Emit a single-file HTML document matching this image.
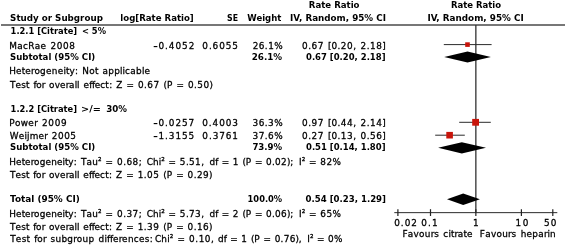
<!DOCTYPE html>
<html lang="en"><head><meta charset="utf-8"><title>Forest plot</title>
<style>html,body{margin:0;padding:0;background:#fff}svg{display:block}text{font-family:"DejaVu Sans", "Liberation Sans", sans-serif;font-size:8.9px;fill:#000}.b{font-weight:bold;fill:#000}.r{stroke:#000;stroke-width:0.28px}.h{font-size:14px;stroke:none}</style></head><body>
<svg width="567" height="246" viewBox="0 0 567 246">
<rect width="567" height="246" fill="#fff"/>
<g stroke="#555" stroke-width="1" fill="none">
<line x1="1" y1="25" x2="565" y2="25" stroke="#4a4a4a" stroke-width="1.4"/>
<line x1="475.85" y1="25" x2="475.85" y2="212.5" stroke="#333" stroke-width="1.3"/>
<line x1="394.3" y1="212.65" x2="557.3" y2="212.65" stroke="#2a2a2a"/>
<line x1="397.9" y1="209.2" x2="397.9" y2="216" stroke="#222" stroke-width="1.2"/>
<line x1="430.5" y1="209.2" x2="430.5" y2="216" stroke="#222" stroke-width="1.2"/>
<line x1="475.85" y1="209.2" x2="475.85" y2="216" stroke="#222" stroke-width="1.2"/>
<line x1="521.4" y1="209.2" x2="521.4" y2="216" stroke="#222" stroke-width="1.2"/>
<line x1="552.8" y1="209.2" x2="552.8" y2="216" stroke="#222" stroke-width="1.2"/>
</g>
<g stroke="#2b2b2b" stroke-width="1" fill="none">
<line x1="443.8" y1="44.6" x2="491.6" y2="44.6"/>
<line x1="459.2" y1="122.3" x2="490.8" y2="122.3"/>
<line x1="435.2" y1="135.2" x2="464.8" y2="135.2"/>
</g>
<g fill="#c8140a">
<rect x="465.2" y="42.3" width="4.6" height="4.6"/>
<rect x="472.2" y="118.9" width="6.8" height="6.8"/>
<rect x="446.3" y="131.9" width="6.6" height="6.6"/>
</g>
<polygon points="444.2,57 467.5,51.4 490.9,57 467.5,62.6" fill="#000"/>
<polygon points="438.1,147.8 461.8,142.2 486,147.8 461.8,153.4" fill="#000"/>
<polygon points="447,199.2 463.2,193.5 479.9,199.2 463.2,204.9" fill="#000"/>
<text x="10.1" y="20.9" textLength="92.8" lengthAdjust="spacingAndGlyphs" class="b">Study or Subgroup</text>
<text x="120.3" y="20.9" textLength="73.5" lengthAdjust="spacingAndGlyphs" class="b">log[Rate Ratio]</text>
<text x="227" y="20.9" textLength="11" lengthAdjust="spacingAndGlyphs" class="b">SE</text>
<text x="247.3" y="20.9" textLength="34.1" lengthAdjust="spacingAndGlyphs" class="b">Weight</text>
<text x="308.8" y="8.45" textLength="50.7" lengthAdjust="spacingAndGlyphs" class="b">Rate Ratio</text>
<text x="290.1" y="20.9" textLength="95.8" lengthAdjust="spacingAndGlyphs" class="b">IV, Random, 95% CI</text>
<text x="450.9" y="8.45" textLength="50.2" lengthAdjust="spacingAndGlyphs" class="b">Rate Ratio</text>
<text x="427.4" y="20.9" textLength="96.3" lengthAdjust="spacingAndGlyphs" class="b">IV, Random, 95% CI</text>
<text x="10.6" y="34.35" textLength="66.5" lengthAdjust="spacingAndGlyphs" class="b">1.2.1 [Citrate]</text>
<text x="82" y="34.35" textLength="24" lengthAdjust="spacingAndGlyphs" class="b">&lt; 5%</text>
<text class="r" y="48.75" x="9.13 17.14 22.94 28.17 34.69 40.49 46.30 50.50 56.78 63.06 69.35">MacRae 2008</text>
<text class="r" y="48.75" x="153.01 158.44 165.06 168.85 175.48 182.10 188.73" dy="1.84 -1.84 0 0 0 0 0"><tspan class="h">-</tspan>0.4052</text>
<text class="r" y="48.75" x="202.31 208.88 212.61 219.18 225.75 232.32">0.6055</text>
<text class="r" y="48.75" x="252.65 258.75 264.86 268.13 274.23">26.1%</text>
<text class="r" y="48.75" x="302.11 308.26 311.58 317.72 323.87 327.94 331.40 337.54 340.86 347.01 353.15 356.47 360.53 366.68 370.00 376.14 382.29">0.67 [0.20, 2.18]</text>
<text x="10" y="59.65" textLength="85.3" lengthAdjust="spacingAndGlyphs" class="b">Subtotal (95% CI)</text>
<text x="251.7" y="59.65" textLength="30.5" lengthAdjust="spacingAndGlyphs" class="b">26.1%</text>
<text x="306" y="59.65" textLength="79.5" lengthAdjust="spacingAndGlyphs" class="b">0.67 [0.20, 2.18]</text>
<text class="r" y="74.4" x="9.13 16.09 21.83 25.26 31.01 34.41 40.12 46.04 51.78 57.69 63.43 65.95 69.39 74.92 78.17 82.29 89.22 94.93 98.36 102.49 108.21 114.13 120.04 122.56 125.08 130.24 135.96 141.88 144.40">Heterogeneity: Not applicable</text>
<text class="r" y="87.55" x="10.03 15.62 21.25 26.05 29.38 33.39 36.17 41.77 45.07 49.08 54.69 60.11 65.75 69.04 74.65 77.07 79.48 83.49 89.13 91.90 94.67 100.30 105.36 109.13 112.27 116.29 122.54 126.56 133.95 137.97 144.07 147.34 153.44 159.54 163.56 166.97 172.49 176.51 183.91 187.92 194.02 197.29 203.39 209.49">Test for overall effect: Z = 0.67 (P = 0.50)</text>
<text x="10.6" y="111.95" textLength="66.4" lengthAdjust="spacingAndGlyphs" class="b">1.2.2 [Citrate]</text>
<text x="81.1" y="111.95" textLength="19.8" lengthAdjust="spacingAndGlyphs" class="b">&gt;/=</text>
<text x="106.2" y="111.95" textLength="20.8" lengthAdjust="spacingAndGlyphs" class="b">30%</text>
<text class="r" y="126.4" x="9.13 14.88 20.70 28.37 34.22 37.75 41.99 48.31 54.64 60.96">Power 2009</text>
<text class="r" y="126.4" x="153.01 158.42 165.02 168.79 175.39 182.00 188.60" dy="1.84 -1.84 0 0 0 0 0"><tspan class="h">-</tspan>0.0257</text>
<text class="r" y="126.4" x="202.31 208.87 212.59 219.14 225.70 232.25">0.4003</text>
<text class="r" y="126.4" x="252.62 258.73 264.84 268.12 274.23">36.3%</text>
<text class="r" y="126.4" x="302.11 308.26 311.58 317.72 323.87 327.94 331.40 337.54 340.86 347.01 353.15 356.47 360.53 366.68 370.00 376.14 382.29">0.97 [0.44, 2.14]</text>
<text class="r" y="139.2" x="9.70 18.74 24.46 26.95 29.67 38.57 44.29 47.67 51.77 57.95 64.13 70.32">Weijmer 2005</text>
<text class="r" y="139.2" x="153.01 158.42 165.03 168.80 175.40 182.01 188.62" dy="1.84 -1.84 0 0 0 0 0"><tspan class="h">-</tspan>1.3155</text>
<text class="r" y="139.2" x="202.31 208.89 212.63 219.21 225.78 232.36">0.3761</text>
<text class="r" y="139.2" x="252.62 258.73 264.84 268.12 274.23">37.6%</text>
<text class="r" y="139.2" x="302.11 308.26 311.58 317.72 323.87 327.94 331.40 337.54 340.86 347.01 353.15 356.47 360.53 366.68 370.00 376.14 382.29">0.27 [0.13, 0.56]</text>
<text x="10" y="150.3" textLength="85.3" lengthAdjust="spacingAndGlyphs" class="b">Subtotal (95% CI)</text>
<text x="252.4" y="150.3" textLength="29.8" lengthAdjust="spacingAndGlyphs" class="b">73.9%</text>
<text x="306" y="150.3" textLength="79.5" lengthAdjust="spacingAndGlyphs" class="b">0.51 [0.14, 1.80]</text>
<text class="r" y="164.8" x="9.23 16.09 21.74 25.08 30.73 34.04 39.66 45.48 51.13 56.94 62.59 65.01 68.35 73.79 76.94 80.98 86.58 92.21 98.02 101.54 105.57 112.98 117.01 123.13 126.41 132.53 138.64" dy="0 0 0 0 0 0 0 0 0 0 0 0 0 0 0 0 0 0 -1 1 0 0 0 0 0 0 0">Heterogeneity: Tau² = 0.68;</text>
<text class="r" y="164.8" x="146.80 153.10 158.84 161.18 164.62 168.57 175.89 179.84 185.88 189.07 195.11 201.14" dy="0 0 0 -1 1 0 0 0 0 0 0 0">Chi² = 5.51,</text>
<text class="r" y="164.8" x="209.61 215.24 217.84 221.69 228.91 232.75 238.68 242.52 245.76 251.11 254.96 262.18 266.03 271.95 275.05 280.97 286.90 290.14">df = 1 (P = 0.02);</text>
<text class="r" y="164.8" x="298.93 301.65 305.10 309.06 316.39 320.35 326.39 332.43" dy="0 -1 1 0 0 0 0 0">I² = 82%</text>
<text class="r" y="177.75" x="10.03 15.61 21.24 26.02 29.34 33.35 36.11 41.70 44.99 49.00 54.59 60.01 65.63 68.92 74.52 76.93 79.33 83.34 88.96 91.72 94.48 100.11 105.15 108.92 112.05 116.05 122.30 126.31 133.69 137.70 143.79 147.05 153.14 159.23 163.24 166.64 172.16 176.17 183.55 187.56 193.65 196.91 203.00 209.09">Test for overall effect: Z = 1.05 (P = 0.29)</text>
<text x="10" y="202.3" textLength="69.8" lengthAdjust="spacingAndGlyphs" class="b">Total (95% CI)</text>
<text x="247.6" y="202.3" textLength="34.6" lengthAdjust="spacingAndGlyphs" class="b">100.0%</text>
<text x="305.5" y="202.3" textLength="80.5" lengthAdjust="spacingAndGlyphs" class="b">0.54 [0.23, 1.29]</text>
<text class="r" y="216.7" x="9.23 16.09 21.74 25.08 30.73 34.04 39.66 45.48 51.13 56.94 62.59 65.01 68.35 73.79 76.94 80.98 86.58 92.21 98.02 101.54 105.57 112.98 117.01 123.13 126.41 132.53 138.64" dy="0 0 0 0 0 0 0 0 0 0 0 0 0 0 0 0 0 0 -1 1 0 0 0 0 0 0 0">Heterogeneity: Tau² = 0.37;</text>
<text class="r" y="216.7" x="146.80 153.10 158.84 161.18 164.62 168.57 175.89 179.84 185.88 189.07 195.11 201.14" dy="0 0 0 -1 1 0 0 0 0 0 0 0">Chi² = 5.73,</text>
<text class="r" y="216.7" x="209.61 215.24 217.84 221.69 228.91 232.75 238.68 242.52 245.76 251.11 254.96 262.18 266.03 271.95 275.05 280.97 286.90 290.14">df = 2 (P = 0.06);</text>
<text class="r" y="216.7" x="298.93 301.65 305.10 309.06 316.39 320.35 326.39 332.43" dy="0 -1 1 0 0 0 0 0">I² = 65%</text>
<text class="r" y="229.6" x="10.03 15.61 21.24 26.02 29.34 33.35 36.11 41.70 44.99 49.00 54.59 60.01 65.63 68.92 74.52 76.93 79.33 83.34 88.96 91.72 94.48 100.11 105.15 108.92 112.05 116.05 122.30 126.31 133.69 137.70 143.79 147.05 153.14 159.23 163.24 166.64 172.16 176.17 183.55 187.56 193.65 196.91 203.00 209.09">Test for overall effect: Z = 1.39 (P = 0.16)</text>
<text class="r" y="242.1" x="10.13 15.87 21.65 26.59 30.06 34.22 37.14 42.89 46.33 50.49 55.43 61.38 67.33 73.28 76.73 82.48 88.42 94.37 98.54 104.49 107.04 109.96 112.88 118.66 122.10 127.88 133.82 139.02 144.80 149.74">Test for subgroup differences:</text>
<text class="r" y="242.1" x="154.90 161.37 167.26 169.77 173.37 177.48 184.98 189.09 195.28 198.65 204.84 211.04" dy="0 0 0 -1 1 0 0 0 0 0 0 0">Chi² = 0.10,</text>
<text class="r" y="242.1" x="218.11 223.76 226.37 230.22 237.46 241.31 247.25 251.11 254.36 259.72 263.58 270.81 274.67 280.61 283.71 289.65 295.59 298.84">df = 1 (P = 0.76),</text>
<text class="r" y="242.1" x="307.33 309.92 313.24 317.08 324.29 328.12 334.03" dy="0 -1 1 0 0 0 0">I² = 0%</text>
<text class="r" y="225.65" x="394.21 400.86 404.68 411.33">0.02</text>
<text class="r" y="225.65" x="421.21 428.05 432.06">0.1</text>
<text class="r" y="225.65" x="473.09">1</text>
<text class="r" y="225.65" x="515.52 522.83">10</text>
<text class="r" y="225.65" x="543.91 550.73">50</text>
<text class="r" y="236.9" x="402.43 407.83 413.56 419.11 424.84 430.76 434.18 439.09 443.23 448.41 450.94 454.39 457.81 463.55 467.00">Favours citrate</text>
<text class="r" y="236.9" x="479.73 485.14 490.89 496.45 502.19 508.12 511.56 516.49 520.64 526.57 532.34 538.29 544.04 547.47 550.02">Favours heparin</text>
</svg></body></html>
